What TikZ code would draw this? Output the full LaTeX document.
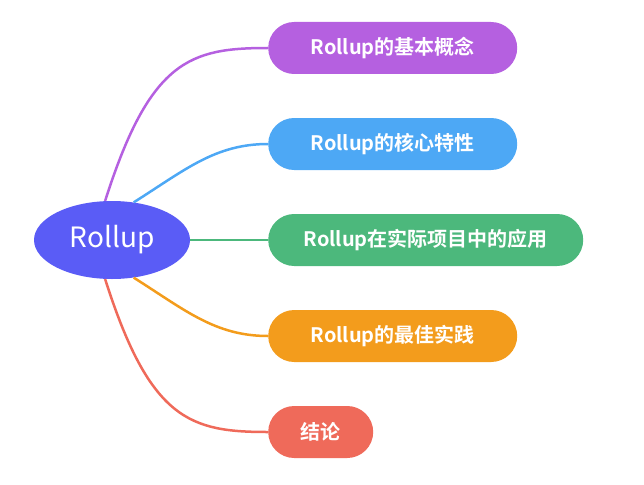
\documentclass[tikz,border=0pt]{standalone}
\usetikzlibrary{shapes.geometric}
\usepackage{fontspec}
\setmainfont{Noto Sans CJK SC}
\newfontfamily\cjkb{Noto Sans CJK SC Bold}
\begin{document}
\begin{tikzpicture}[x=1pt,y=-1pt,
  br/.style={rounded corners=26pt,minimum height=52pt,anchor=west,text=white,font=\cjkb\fontsize{20}{22}\selectfont,inner xsep=24pt},
  cn/.style={line width=2.5pt}]
\definecolor{cpur}{HTML}{B560E0}
\definecolor{cblu}{HTML}{4DA8F5}
\definecolor{cgrn}{HTML}{4CB87C}
\definecolor{cora}{HTML}{F39C1C}
\definecolor{cred}{HTML}{EF6A5A}
\definecolor{ccen}{HTML}{5A5CF6}
\useasboundingbox (0,0) rectangle (644,484);
\node[ellipse,fill=ccen,minimum width=156pt,minimum height=78pt,inner sep=0,text=white,font=\fontsize{28}{30}\selectfont] (c) at (112,240) {Rollup};
\node[br,fill=cpur,minimum width=249pt] (a) at (268,48) {Rollup的基本概念};
\node[br,fill=cblu,minimum width=249pt] (b) at (268,144) {Rollup的核心特性};
\node[br,fill=cgrn,minimum width=315pt] (d) at (268,240) {Rollup在实际项目中的应用};
\node[br,fill=cora,minimum width=249pt] (e) at (268,336) {Rollup的最佳实践};
\node[br,fill=cred,minimum width=105pt] (f) at (268,432) {结论};
\draw[cn,cpur] (c.100) .. controls (150,60) and (190,48) .. (a.west);
\draw[cn,cblu] (c.60) .. controls (185,170) and (215,144) .. (b.west);
\draw[cn,cgrn] (c.east) -- (d.west);
\draw[cn,cora] (c.-60) .. controls (185,310) and (215,336) .. (e.west);
\draw[cn,cred] (c.-100) .. controls (150,420) and (190,432) .. (f.west);
\end{tikzpicture}
\end{document}
